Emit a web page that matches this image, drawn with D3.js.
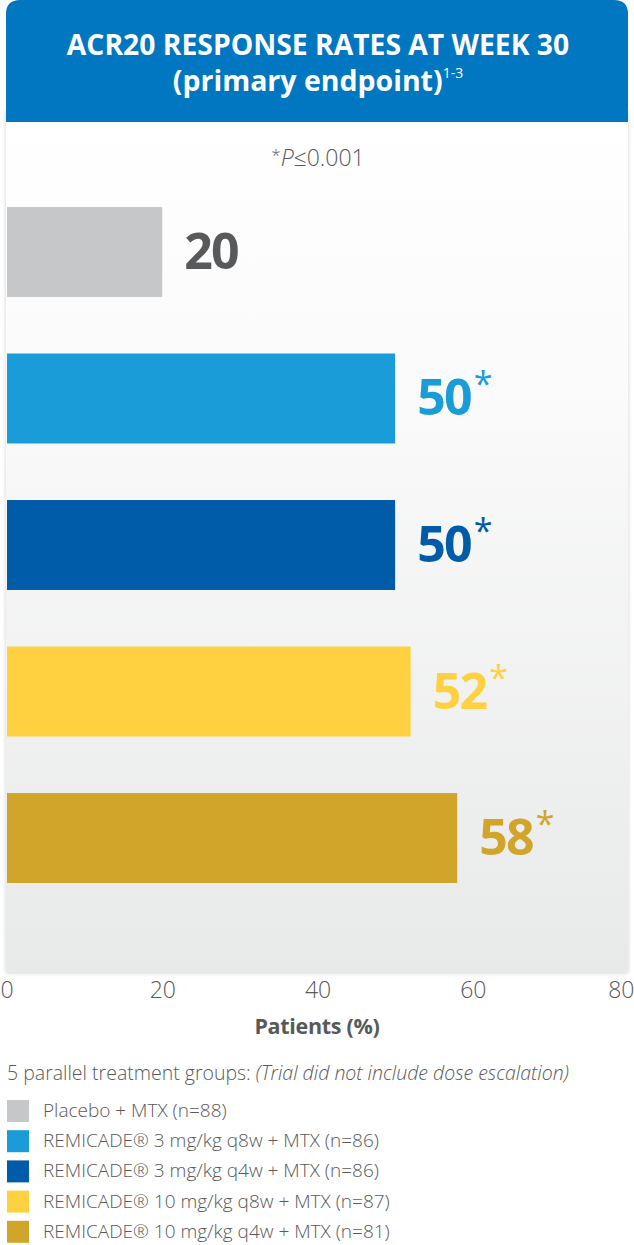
<!DOCTYPE html>
<html><head><meta charset="utf-8">
<script src="https://cdn.jsdelivr.net/npm/d3@7/dist/d3.min.js"></script>
<style>
html,body{margin:0;padding:0;background:#fff;}
svg{display:block;font-family:"Open Sans",sans-serif;}
</style></head>
<body>
<script>
const categories = ["Placebo + MTX (n=88)","REMICADE® 3 mg/kg q8w + MTX (n=86)","REMICADE® 3 mg/kg q4w + MTX (n=86)","REMICADE® 10 mg/kg q8w + MTX (n=87)","REMICADE® 10 mg/kg q4w + MTX (n=81)"];
const values = [20, 50, 50, 52, 58];
const significant = [false, true, true, true, true];
const colors = ["#c6c7c8","#1a9cd8","#005ca8","#ffd03f","#d1a52a"];
const labelColors = ["#58595b","#1a9cd8","#005ca8","#ffd03f","#d1a52a"];
const tickValues = [0, 20, 40, 60, 80];

const W = 634, H = 1245;
const svg = d3.select("body").append("svg").attr("width", W).attr("height", H);
const defs = svg.append("defs");
const grad = defs.append("linearGradient").attr("id","pg").attr("x1",0).attr("y1",0).attr("x2",0).attr("y2",1);
grad.append("stop").attr("offset","0%").attr("stop-color","#ffffff");
grad.append("stop").attr("offset","30%").attr("stop-color","#fbfbfb");
grad.append("stop").attr("offset","100%").attr("stop-color","#e8e9e9");
const f = defs.append("filter").attr("id","sh").attr("x","-5%").attr("y","-5%").attr("width","110%").attr("height","110%");
f.append("feDropShadow").attr("dx",0).attr("dy",1).attr("stdDeviation",2).attr("flood-color","#000").attr("flood-opacity",0.18);

// panel
svg.append("rect").attr("x",6).attr("y",110).attr("width",622).attr("height",862).attr("fill","url(#pg)").attr("filter","url(#sh)");
// header
const hx=6, hw=622, hh=122, r=14;
svg.append("path").attr("d",`M${hx},${hh} L${hx},${r} Q${hx},0 ${hx+r},0 L${hx+hw-r},0 Q${hx+hw},0 ${hx+hw},${r} L${hx+hw},${hh} Z`).attr("fill","#0077c0");
svg.append("text").attr("x",318).attr("y",55).attr("text-anchor","middle").attr("fill","#fff")
  .attr("font-size",28.3).attr("font-weight",700).text("ACR20 RESPONSE RATES AT WEEK 30");
const t2 = svg.append("text").attr("x",318).attr("y",91).attr("text-anchor","middle").attr("fill","#fff")
  .attr("font-size",28.5).attr("font-weight",700);
t2.append("tspan").text("(primary endpoint)");
t2.append("tspan").attr("font-size",14).attr("font-weight",400).attr("dy",-13).text("1-3");

// p-value note
const pn = svg.append("text").attr("x",318).attr("y",166).attr("text-anchor","middle").attr("fill","#58595b").attr("font-size",23).attr("font-weight",300);
pn.append("tspan").attr("font-size",17).attr("dy",-5).text("*");
pn.append("tspan").attr("font-style","italic").attr("dy",5).text("P");
pn.append("tspan").text("≤0.001");

const x = d3.scaleLinear().domain([0,80]).range([7,628]);
const y = d3.scaleBand().domain(d3.range(categories.length)).range([207,883]).paddingInner(0.386).paddingOuter(0);

svg.append("g").selectAll("rect").data(values).join("rect")
  .attr("x", x(0)).attr("y",(d,i)=>y(i)).attr("width",d=>x(d)-x(0)).attr("height",y.bandwidth())
  .attr("fill",(d,i)=>colors[i]);

const lab = svg.append("g").selectAll("text").data(values).join("text")
  .attr("x",d=>x(d)+22).attr("y",(d,i)=>y(i)+y.bandwidth()/2+17)
  .attr("fill",(d,i)=>labelColors[i]).attr("font-size",50).attr("font-weight",700).attr("letter-spacing",-1.8);
lab.append("tspan").text(d=>d);
lab.filter((d,i)=>significant[i]).append("tspan").attr("font-size",34).attr("font-weight",400).attr("dy",-19).attr("dx",3).text("*");

// axis
const ax = svg.append("g").attr("transform","translate(0,971)")
  .call(d3.axisBottom(x).tickValues(tickValues).tickSize(0).tickPadding(11));
ax.select(".domain").remove();
ax.selectAll("text").attr("font-size",23).attr("font-weight",300).attr("fill","#58595b").attr("font-family","'Open Sans',sans-serif")
  .attr("text-anchor",(d,i)=>i===0?"start":(i===tickValues.length-1?"end":"middle"))
  .attr("dx",(d,i)=>i===0?-7:(i===tickValues.length-1?6:0));

svg.append("text").attr("x",317).attr("y",1034).attr("text-anchor","middle").attr("fill","#58595b")
  .attr("font-size",21.5).attr("font-weight",700).attr("letter-spacing",-0.3).text("Patients (%)");

const lh = svg.append("text").attr("x",7).attr("y",1080).attr("fill","#58595b").attr("font-size",19.5).attr("font-weight",300);
lh.append("tspan").text("5 parallel treatment groups: ");
lh.append("tspan").attr("font-style","italic").text("(Trial did not include dose escalation)");

const lg = svg.append("g").selectAll("g").data(categories).join("g")
  .attr("transform",(d,i)=>`translate(7,${1100+i*30.2})`);
lg.append("rect").attr("width",22).attr("height",22).attr("fill",(d,i)=>colors[i]);
lg.append("text").attr("x",36).attr("y",17).attr("fill","#58595b").attr("font-size",19).attr("font-weight",300).text(d=>d);
</script>
</body></html>
